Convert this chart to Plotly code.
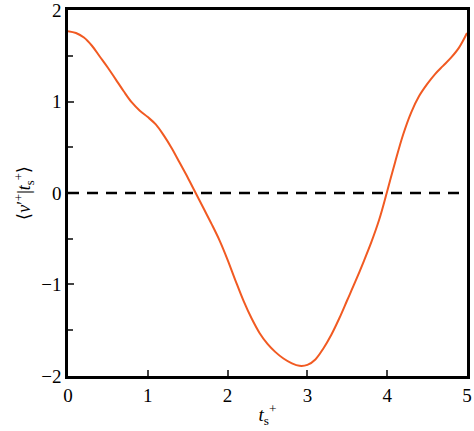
import plotly.graph_objects as go

t_s = [0.0, 0.1, 0.2, 0.3, 0.4, 0.5, 0.6, 0.7, 0.8, 0.9, 1.0, 1.1, 1.2, 1.3, 1.4, 1.5,
       1.6, 1.7, 1.8, 1.9, 2.0, 2.1, 2.2, 2.3, 2.4, 2.5, 2.6, 2.7, 2.8, 2.9, 3.0, 3.1,
       3.2, 3.3, 3.4, 3.5, 3.6, 3.7, 3.8, 3.9, 4.0, 4.1, 4.2, 4.3, 4.4, 4.5, 4.6, 4.7,
       4.8, 4.9, 5.0]
v_cond = [1.77, 1.75, 1.70, 1.61, 1.49, 1.37, 1.24, 1.11, 0.99, 0.90, 0.83, 0.75, 0.63,
          0.49, 0.33, 0.17, 0.00, -0.17, -0.34, -0.52, -0.73, -0.96, -1.18, -1.37,
          -1.53, -1.65, -1.74, -1.81, -1.86, -1.89, -1.88, -1.82, -1.70, -1.55, -1.37,
          -1.17, -0.97, -0.76, -0.54, -0.29, 0.02, 0.34, 0.64, 0.88, 1.06, 1.19, 1.30,
          1.39, 1.48, 1.59, 1.75]
ref_level = 0.0
x_ticks = [0, 1, 2, 3, 4, 5]
y_ticks = [-2, -1, 0, 1, 2]
y_labels = ["\u22122", "\u22121", "0", "1", "2"]

font_family = "Liberation Serif, DejaVu Serif, serif"

fig = go.Figure()
fig.add_trace(go.Scatter(x=t_s, y=v_cond, mode="lines",
                         line=dict(color="#F15A22", width=2, shape="spline", smoothing=1.0),
                         showlegend=False, hoverinfo="skip"))
fig.add_hline(y=ref_level, line=dict(color="black", width=2.4, dash="11px,8px"))

fig.update_layout(
    width=474, height=431,
    margin=dict(l=68, r=7, t=10, b=55),
    plot_bgcolor="white", paper_bgcolor="white",
    font=dict(family=font_family, size=19, color="black"),
)
fig.update_xaxes(range=[0, 5], tickvals=x_ticks, ticks="inside", ticklen=6, tickwidth=2,
                 showline=True, linewidth=2.5, linecolor="black", mirror=True,
                 showgrid=False, zeroline=False, automargin=False,
                 ticklabeloverflow="allow",
                 title=dict(text="<i>t</i><sub>s</sub><sup>+</sup>", standoff=4,
                            font=dict(size=19)))
fig.update_yaxes(range=[-2.001, 2.001], tickvals=y_ticks, ticktext=y_labels, ticks="inside",
                 ticklen=6, tickwidth=2,
                 minor=dict(dtick=0.5, tick0=0, ticks="inside", ticklen=5, tickwidth=2),
                 showline=True, linewidth=2.5, linecolor="black", mirror=True,
                 showgrid=False, zeroline=False, automargin=False,
                 ticklabeloverflow="allow",
                 title=dict(text="\u27e8<i>v</i>\u2032<sup>+</sup>|<i>t</i><sub>s</sub><sup>+</sup>\u27e9",
                            standoff=6, font=dict(size=18)))

fig.write_html("out.html", config={"displayModeBar": False},
               post_script="document.body.style.margin='0';document.body.style.overflow='hidden';")
